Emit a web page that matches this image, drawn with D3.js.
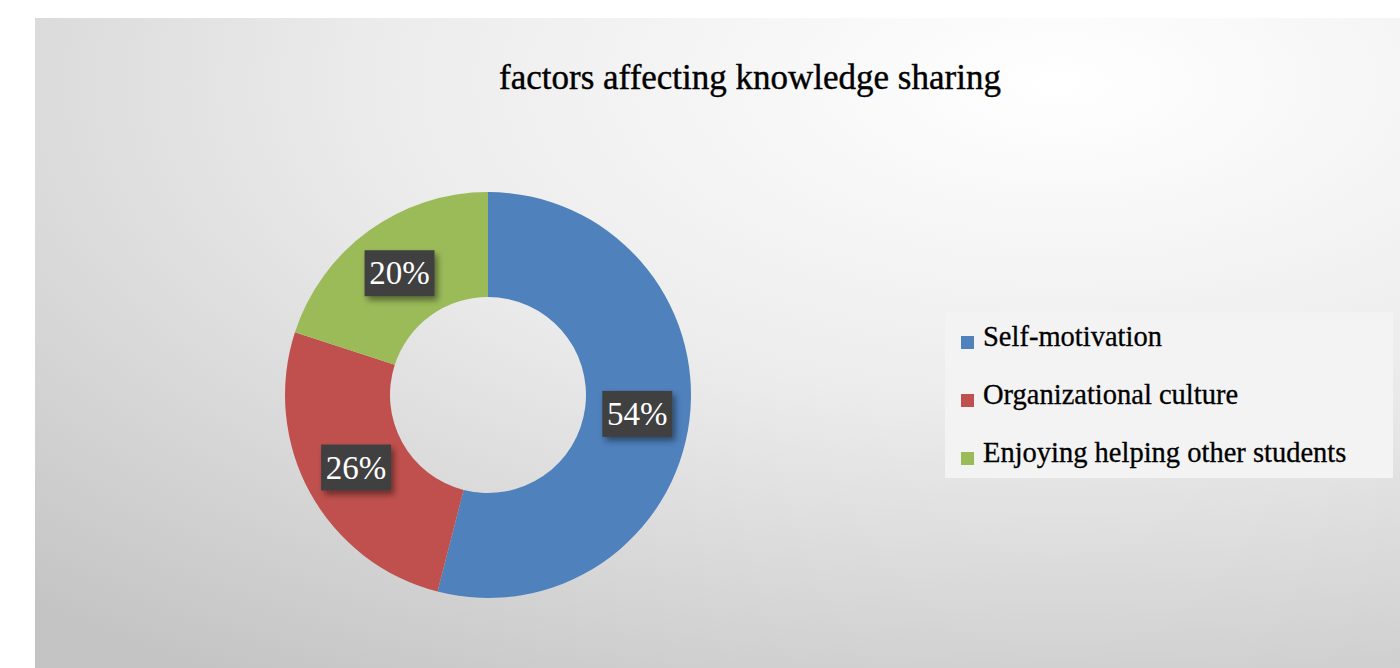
<!DOCTYPE html>
<html><head><meta charset="utf-8">
<script src="https://cdn.jsdelivr.net/npm/d3@7"></script>
<style>body{margin:0;background:#fff}</style></head>
<body><svg id="c" width="1400" height="668"></svg>
<script>
const categories=["Self-motivation","Organizational culture","Enjoying helping other students"];
const values=[54,26,20];
const colors=["#4f81bd","#c0504d","#9bbb59"];
const title="factors affecting knowledge sharing";

const svg=d3.select("#c");
const defs=svg.append("defs");
const g=defs.append("radialGradient").attr("id","bg").attr("cx","0.75").attr("cy","0.1").attr("r","1.1");
g.append("stop").attr("offset","0").attr("stop-color","#ffffff");
g.append("stop").attr("offset","0.45").attr("stop-color","#ececec");
g.append("stop").attr("offset","1").attr("stop-color","#c4c4c4");
const f=defs.append("filter").attr("id","sh").attr("x","-30%").attr("y","-30%").attr("width","170%").attr("height","170%");
f.append("feDropShadow").attr("dx",3).attr("dy",4).attr("stdDeviation",3).attr("flood-color","#000").attr("flood-opacity",0.45);

svg.append("rect").attr("x",35).attr("y",18).attr("width",1365).attr("height",650).attr("fill","url(#bg)");
svg.append("text").attr("x",750).attr("y",89).attr("text-anchor","middle")
  .attr("font-family","Liberation Serif").attr("font-size",35).attr("stroke","#000").attr("stroke-width",0.4)
  .attr("fill","#000").text(title);

const cx=488,cy=395,R=203,r0=98;
const pie=d3.pie().sort(null)(values);
const arc=d3.arc().innerRadius(r0).outerRadius(R);
const cg=svg.append("g").attr("transform",`translate(${cx},${cy})`);
cg.selectAll("path").data(pie).join("path").attr("d",arc).attr("fill",(d,i)=>colors[i]);
const larc=d3.arc().innerRadius((R+r0)/2).outerRadius((R+r0)/2);
pie.forEach((d,i)=>{
  const [x,y]=larc.centroid(d);
  const lg=cg.append("g").attr("transform",`translate(${x},${y})`);
  lg.append("rect").attr("x",-35).attr("y",-23).attr("width",70).attr("height",46)
    .attr("fill","#404040").attr("filter","url(#sh)");
  lg.append("text").attr("text-anchor","middle").attr("dy",11)
    .attr("font-family","Liberation Serif").attr("font-size",33).attr("fill","#fff").text(values[i]+"%");
});

svg.append("rect").attr("x",945).attr("y",312).attr("width",448).attr("height",166).attr("fill","#f3f3f3");
categories.forEach((c,i)=>{
  const y=337+i*58;
  svg.append("rect").attr("x",961).attr("y",y-1).attr("width",13).attr("height",13).attr("fill",colors[i]);
  svg.append("text").attr("x",983).attr("y",y+9).attr("font-family","Liberation Serif")
    .attr("font-size",28.5).attr("stroke","#000").attr("stroke-width",0.3).attr("fill","#000").text(c);
});
</script></body></html>
